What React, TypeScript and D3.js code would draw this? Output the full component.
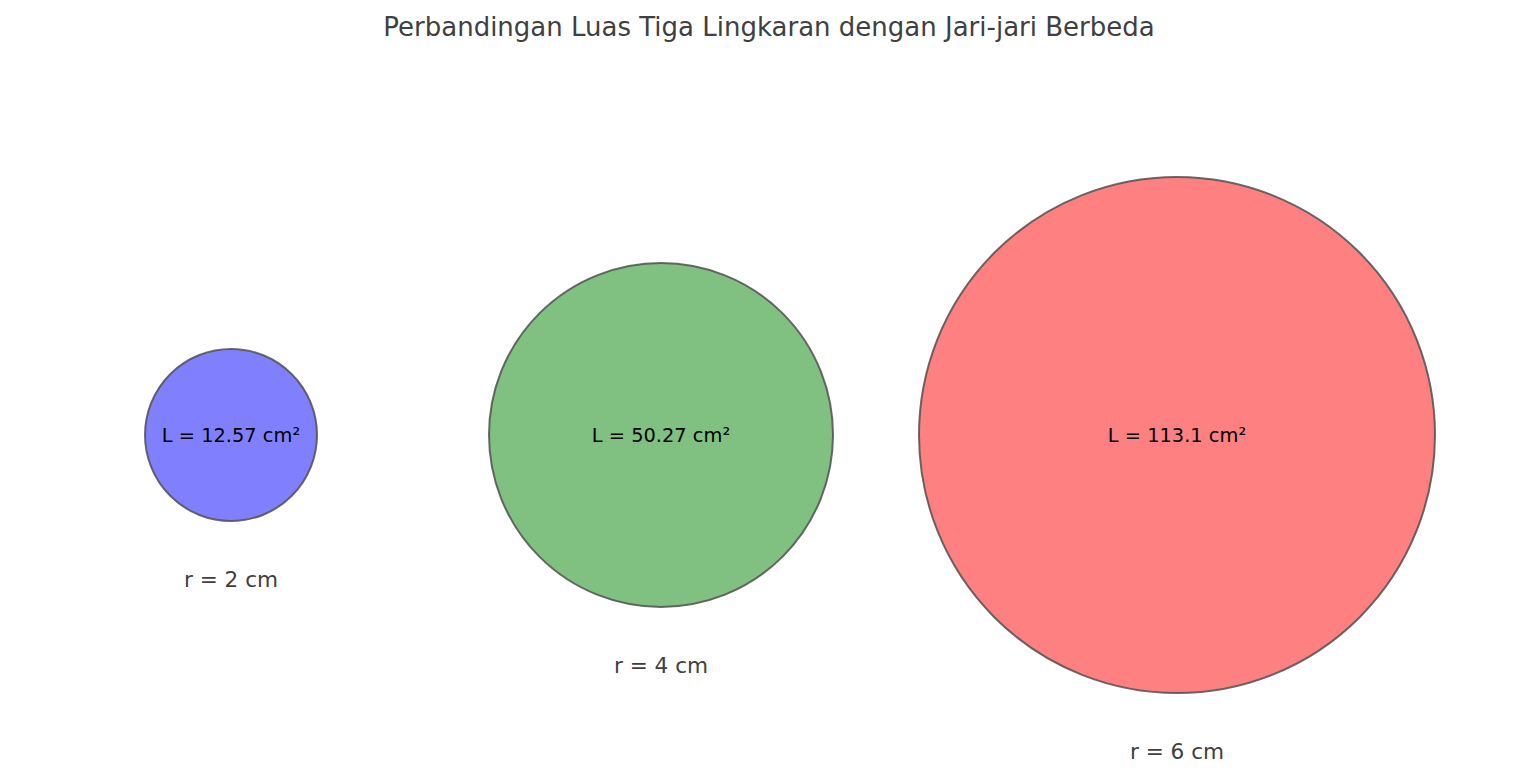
import React from "react";
import * as d3 from "d3";

// 세 원의 데이터
const radii = [2, 4, 6]; // cm
const centersX = [0, 10, 22]; // cm, 원 중심 위치
const areaLabels = ["12.57", "50.27", "113.1"];
const fills = ["#8080ff", "#80c080", "#ff8080"];
const titleText = "Perbandingan Luas Tiga Lingkaran dengan Jari-jari Berbeda";

const W = 1536;
const H = 778;

export default function App() {
  // 1 cm = 43 px
  const x = d3.scaleLinear().domain([0, 22]).range([231, 1177]);
  const y = d3.scaleLinear().domain([0, -1]).range([435, 478]);
  const pxPerCm = x(1) - x(0);

  return (
    <svg
      width={W}
      height={H}
      style={{ position: "absolute", left: 0, top: 0, background: "#fff" }}
      fontFamily="DejaVu Sans, sans-serif"
    >
      <text
        x={W / 2 + 1}
        y={27}
        textAnchor="middle"
        dominantBaseline="central"
        fontSize={26}
        fill="#404040"
      >
        {titleText}
      </text>
      {radii.map((r, i) => (
        <g key={i}>
          <circle
            cx={x(centersX[i])}
            cy={y(0)}
            r={r * pxPerCm}
            fill={fills[i]}
            stroke="#505050"
            strokeOpacity={0.85}
            strokeWidth={2}
          />
          <text
            x={x(centersX[i])}
            y={y(0)}
            textAnchor="middle"
            dominantBaseline="central"
            fontSize={19.4}
            fill="#000"
          >
            {`L = ${areaLabels[i]} cm²`}
          </text>
          <text
            x={x(centersX[i])}
            y={y(-r - 1.35)}
            textAnchor="middle"
            dominantBaseline="central"
            fontSize={21.6}
            fill="#404040"
          >
            {`r = ${r} cm`}
          </text>
        </g>
      ))}
    </svg>
  );
}
